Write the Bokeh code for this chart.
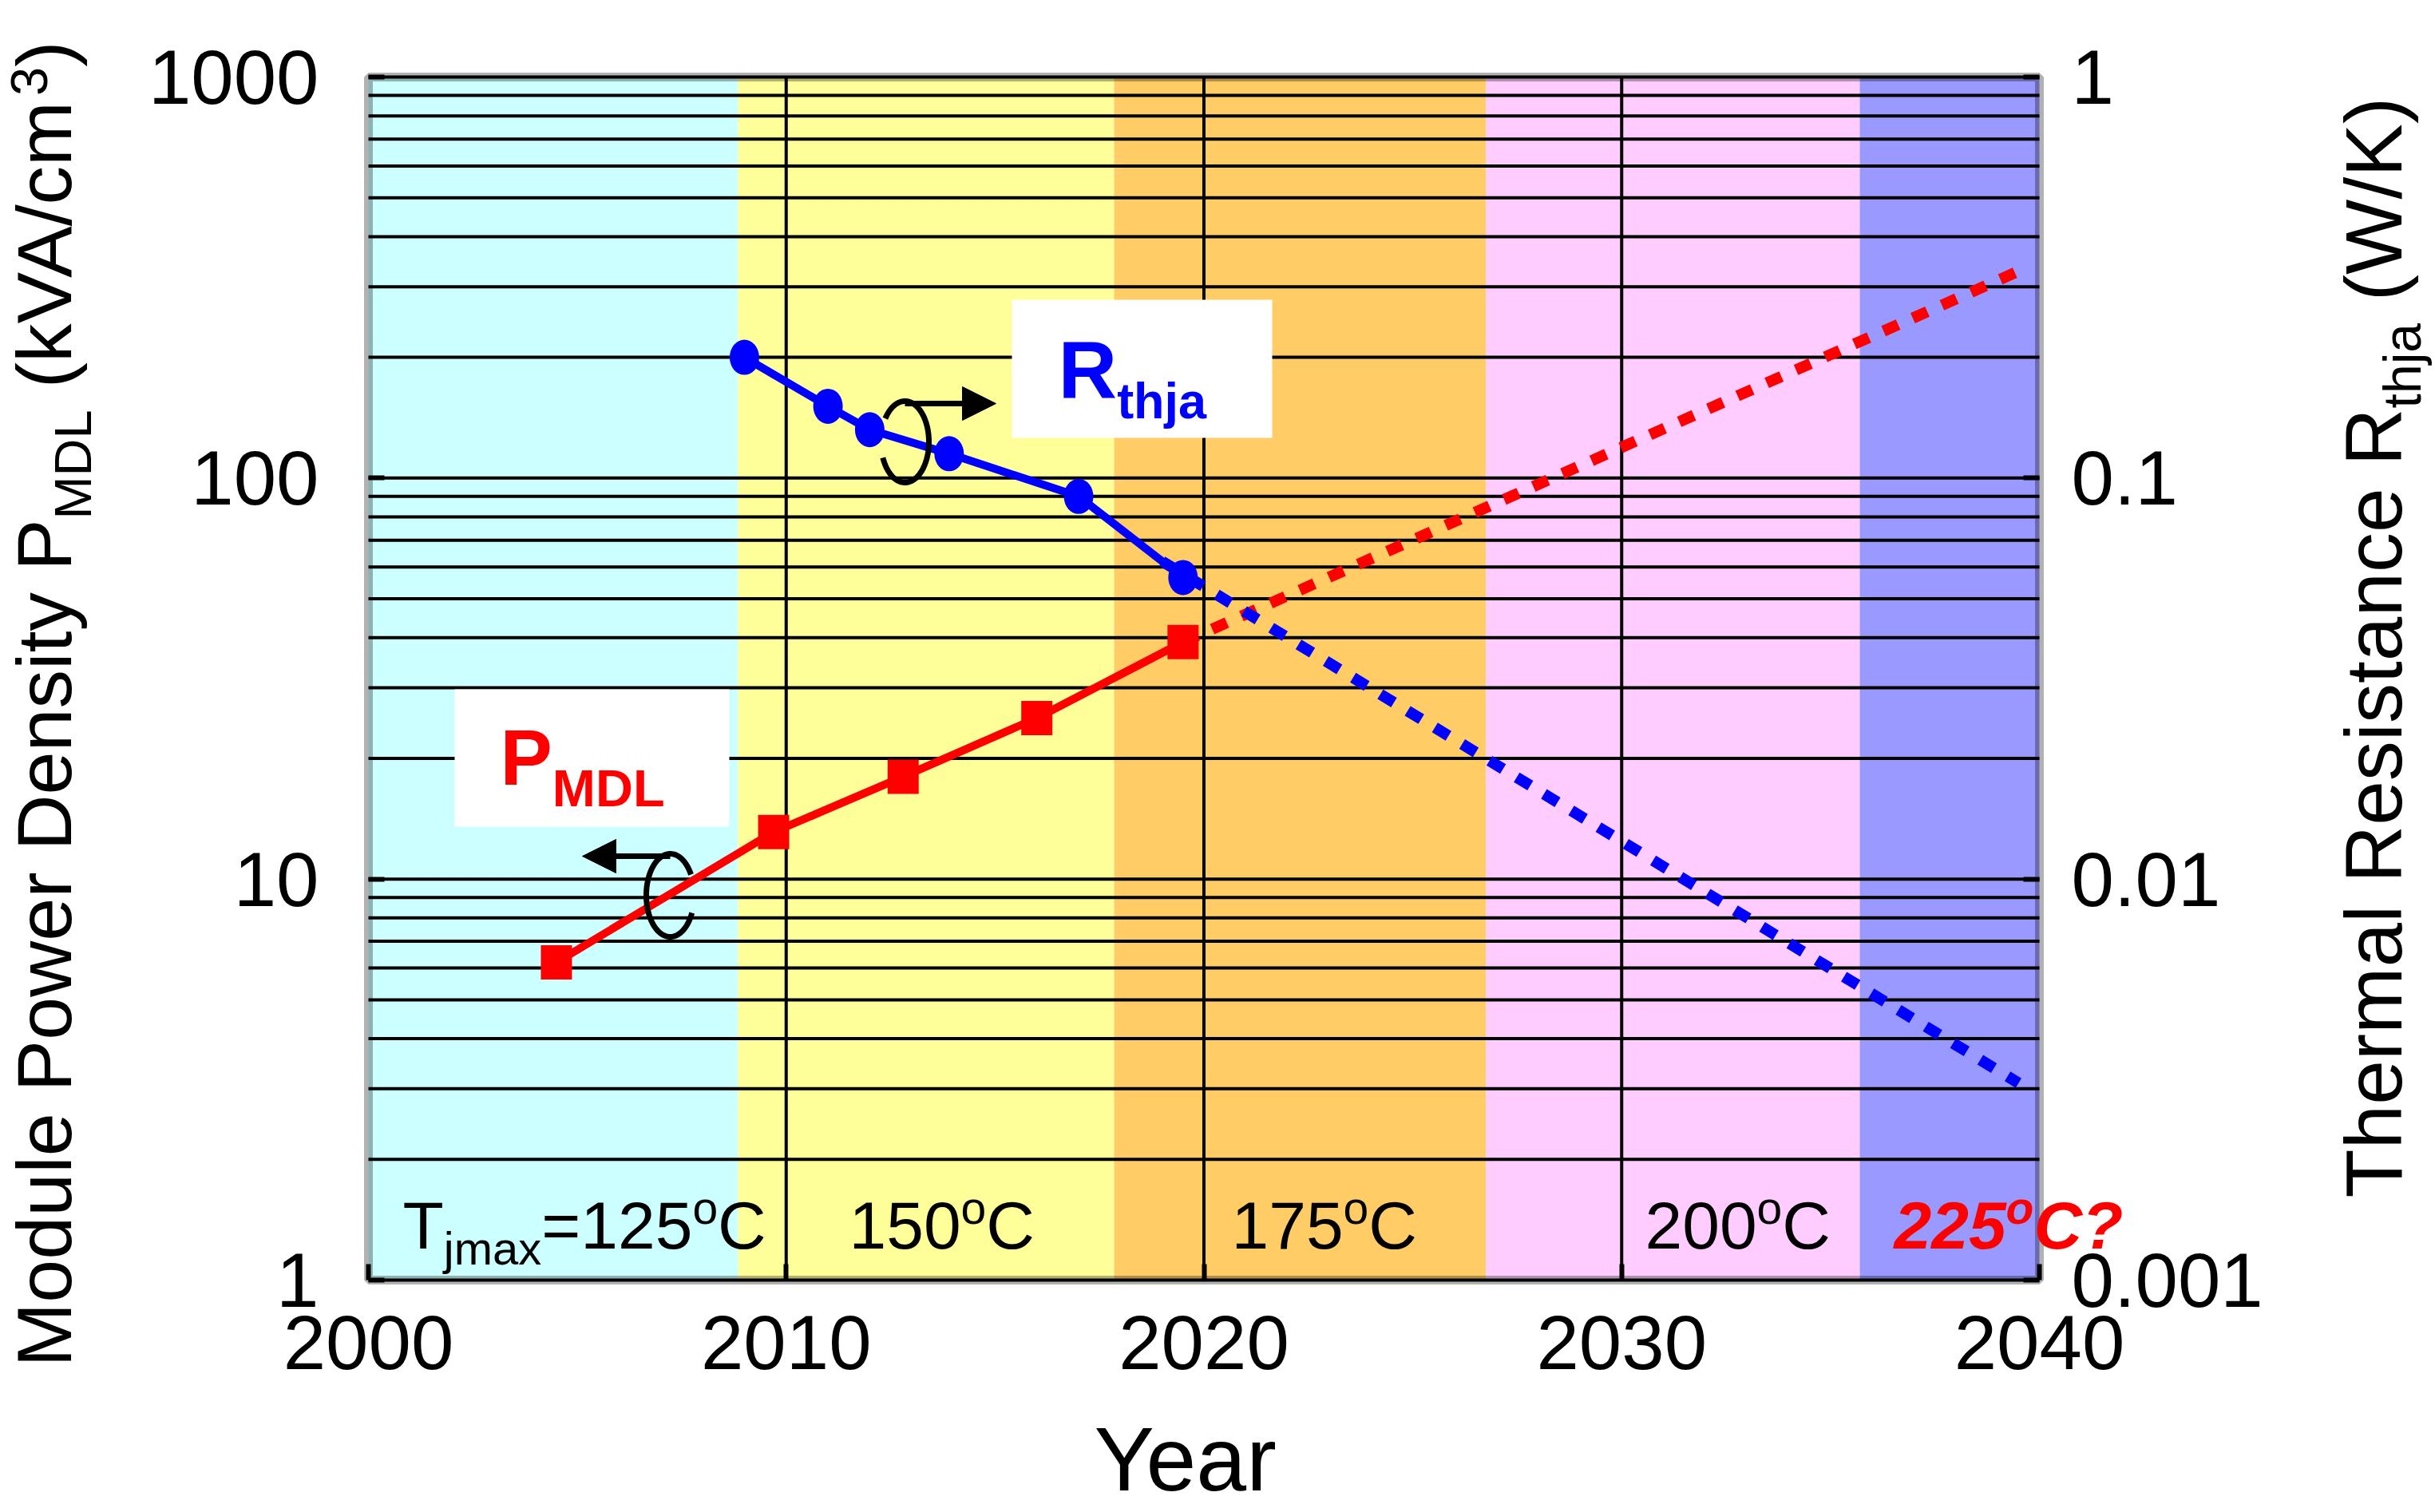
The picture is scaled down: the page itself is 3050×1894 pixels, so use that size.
import math
from bokeh.plotting import figure
from bokeh.models import (Range1d, LogScale, LogAxis, FixedTicker, CustomJSTickFormatter,
                          Label, Arrow, NormalHead, BoxAnnotation)
from bokeh.embed import file_html
from bokeh.resources import INLINE

# ---------------- data ----------------
p_years = [2004.5, 2009.7, 2012.8, 2016.0, 2019.5]
p_mdl = [6.2, 13.1, 18.0, 25.2, 39.0]
p_proj_years = [2019.5, 2039.5]
p_proj = [39.0, 328.0]

r_years = [2009.0, 2011.0, 2012.0, 2013.9, 2017.0, 2019.5]
r_thja = [0.200, 0.151, 0.132, 0.115, 0.090, 0.0565]
r_proj_years = [2019.0, 2039.5]
r_proj = [0.062, 0.0031]

band_edges = [2000, 2008.85, 2017.85, 2026.75, 2035.7, 2040]
band_colors = ["#CCFFFF", "#FFFF99", "#FFCC66", "#FFCCFF", "#9999FF"]

x_ticks = [2000, 2010, 2020, 2030, 2040]
x_grid = [2010, 2020, 2030]
left_ticks = [1, 10, 100, 1000]
right_ticks = [0.001, 0.01, 0.1, 1]
ygrid_vals = [k * 10 ** e for e in range(0, 3) for k in range(1, 10)] + [1000]

# ---------------- geometry (canvas pixels of the plot box) ----------------
W, H = 3050, 1894
FL, FT, FW, FH = 461, 96, 2093, 1507
SX = 40.0 / FW          # years per pixel
SY = 3.0 / FH           # decades per pixel

def px2x(X):
    return 2000 + (X - FL) * SX

def px2y(Y):
    return 10 ** (3 - (Y - FT) * SY)

x_start, x_end = px2x(0), px2x(W)
y_top, y_bot = px2y(0), px2y(H)

REG = {' ': 278, '(': 333, ')': 333, '/': 278, '=': 584, '?': 556, 'A': 667, 'C': 722,
       'D': 722, 'K': 667, 'L': 556, 'M': 833, 'P': 667, 'R': 722, 'T': 611, 'V': 667,
       'W': 944, 'Y': 667, 'a': 556, 'c': 500, 'd': 556, 'e': 556, 'h': 556, 'i': 222,
       'j': 222, 'k': 500, 'l': 222, 'm': 833, 'n': 556, 'o': 556, 'r': 333, 's': 500,
       't': 278, 'u': 556, 'w': 722, 'x': 500, 'y': 500}
BOLD = {'?': 611, 'C': 722, 'D': 722, 'L': 611, 'M': 833, 'P': 667, 'R': 722, 'a': 556,
        'h': 611, 'j': 278, 'o': 611, 't': 333}

def twidth(text, size, bold=False):
    tab = BOLD if bold else REG
    return sum(tab.get(c, REG.get(c, 556)) for c in text) * size / 1000.0

p = figure(width=W, height=H, x_range=Range1d(x_start, x_end), y_range=Range1d(y_bot, y_top),
           y_axis_type="log", output_backend="svg", toolbar_location=None,
           min_border_left=0, min_border_right=0, min_border_top=0, min_border_bottom=0)
p.background_fill_color = "white"
p.border_fill_color = "white"
p.outline_line_color = None
p.grid.visible = False

p.extra_y_ranges = {"r": Range1d(y_bot / 1000.0, y_top / 1000.0)}
p.extra_y_scales = {"r": LogScale()}
ax_r = LogAxis(y_range_name="r")
p.add_layout(ax_r, "right")

fmt = "return tick.toString()"
p.xaxis[0].ticker = FixedTicker(ticks=x_ticks)
p.xaxis[0].fixed_location = 1
p.yaxis[0].ticker = FixedTicker(ticks=left_ticks)
p.yaxis[0].fixed_location = 2000
ax_r.ticker = FixedTicker(ticks=right_ticks)
ax_r.fixed_location = 2040
for ax, sd in [(p.xaxis[0], 44), (p.yaxis[0], 62), (ax_r, 40)]:
    ax.formatter = CustomJSTickFormatter(code=fmt)
    ax.axis_line_color = None
    ax.major_tick_in = 20
    ax.major_tick_out = 0
    ax.major_tick_line_width = 6
    ax.major_tick_line_color = "black"
    ax.minor_tick_line_color = None
    ax.major_label_text_font = "Liberation Sans"
    ax.major_label_text_font_size = "96px"
    ax.major_label_text_color = "black"
    ax.major_label_standoff = sd

# temperature bands
p.quad(left=band_edges[:-1], right=band_edges[1:], bottom=1, top=1000,
       fill_color=band_colors, line_color=None, level="image")

# grid lines inside the plot box
p.segment(x0=2000, x1=2040, y0=ygrid_vals, y1=ygrid_vals, line_color="black",
          line_width=4, level="underlay")
p.segment(x0=x_grid, x1=x_grid, y0=1, y1=1000, line_color="black", line_width=4,
          level="underlay")

# projections
p.line(p_proj_years, p_proj, line_color="red", line_width=14, line_dash="20 20")
p.line(r_proj_years, r_proj, line_color="blue", line_width=14, line_dash="20 20",
       y_range_name="r")

# measured
p.line(p_years, p_mdl, line_color="red", line_width=10)
p.rect(x=p_years, y=p_mdl, width=39, height=43, width_units="screen",
       height_units="screen", fill_color="red", line_color=None)
p.line(r_years, r_thja, line_color="blue", line_width=10, y_range_name="r")
p.ellipse(x=r_years, y=r_thja, width=37, height=44, width_units="screen",
          height_units="screen", fill_color="blue", line_color=None, y_range_name="r")

# plot box border
p.add_layout(BoxAnnotation(left=2000, right=2040, bottom=1, top=1000, fill_color=None,
                           line_color="black", line_width=11))

# white label boxes
for (x0, y0, x1, y1) in [(569, 863, 913, 1035), (1267, 375, 1593, 548)]:
    p.add_layout(BoxAnnotation(left=px2x(x0), right=px2x(x1), top=px2y(y0),
                               bottom=px2y(y1), fill_color="white", fill_alpha=1.0,
                               line_color=None))

BASE_CORR = 0.36   # empirical baseline correction (em)

def rich(x0, y0, segs, angle=0.0, color="black", bold=False, italic=False):
    style = "normal"
    if bold and italic:
        style = "bold italic"
    elif bold:
        style = "bold"
    elif italic:
        style = "italic"
    pos = 0.0
    for text, size, shift in segs:
        stripped = text.lstrip(" ")
        pos += twidth(text[:len(text) - len(stripped)], size, bold)
        text = stripped
        sh = shift + BASE_CORR * size
        if angle == 0:
            X, Y = x0 + pos, y0 - sh
        else:
            X, Y = x0 - sh, y0 - pos
        p.add_layout(Label(x=px2x(X), y=px2y(Y), text=text, angle=angle,
                           text_font="Liberation Sans", text_font_size=f"{size}px",
                           text_font_style=style, text_color=color,
                           text_align="left", text_baseline="alphabetic"))
        pos += twidth(text, size, bold)

# series labels
rich(626, 984, [("P", 98, 0), ("MDL", 65, -26)], color="red", bold=True)
rich(1325, 500, [("R", 102, 0), ("thja", 63, -24)], color="blue", bold=True)

# band labels
SUP = 32
rich(504, 1565, [("T", 84, 0), ("jmax", 58, -19), ("=125", 84, 0), ("o", 57, SUP), ("C", 84, 0)])
rich(1063, 1565, [("150", 84, 0), ("o", 57, SUP), ("C", 84, 0)])
rich(1542, 1565, [("175", 84, 0), ("o", 57, SUP), ("C", 84, 0)])
rich(2060, 1565, [("200", 84, 0), ("o", 57, SUP), ("C", 84, 0)])
rich(2372, 1565, [("225", 84, 0), ("o", 57, SUP), ("C?", 84, 0)], color="red",
     bold=True, italic=True)

# axis titles
rich(1370, 1868, [("Year", 113, 0)])
rich(90, 1712, [("Module Power Density P", 97, 0), ("MDL", 65, -24),
                (" (kVA/cm", 97, 0), ("3", 65, 31), (")", 97, 0)], angle=math.pi / 2)
rich(3008, 1500, [("Thermal Resistance R", 100, 0), ("thja", 66, -24),
                  (" (W/K)", 100, 0)], angle=math.pi / 2)

# rotation loops with axis arrows
def loop(cx, cy, rx, ry, gap0, gap1):
    xs, ys = [], []
    n = 120
    span = 360 - (gap1 - gap0)
    for i in range(n + 1):
        a = math.radians(gap1 + span * i / n)
        xs.append(px2x(cx + rx * math.cos(a)))
        ys.append(px2y(cy - ry * math.sin(a)))
    p.line(xs, ys, line_color="black", line_width=7)

loop(1133, 553, 30, 51, 145, 203)
p.add_layout(Arrow(end=NormalHead(size=42, fill_color="black", line_color="black"),
                   x_start=px2x(1133), y_start=px2y(505), x_end=px2x(1247), y_end=px2y(505),
                   line_width=7, line_color="black"))
loop(839, 1121, 30, 52, -25, 30)
p.add_layout(Arrow(end=NormalHead(size=42, fill_color="black", line_color="black"),
                   x_start=px2x(839), y_start=px2y(1072), x_end=px2x(729), y_end=px2y(1072),
                   line_width=7, line_color="black"))

open("out.html", "w").write(file_html(p, INLINE))
